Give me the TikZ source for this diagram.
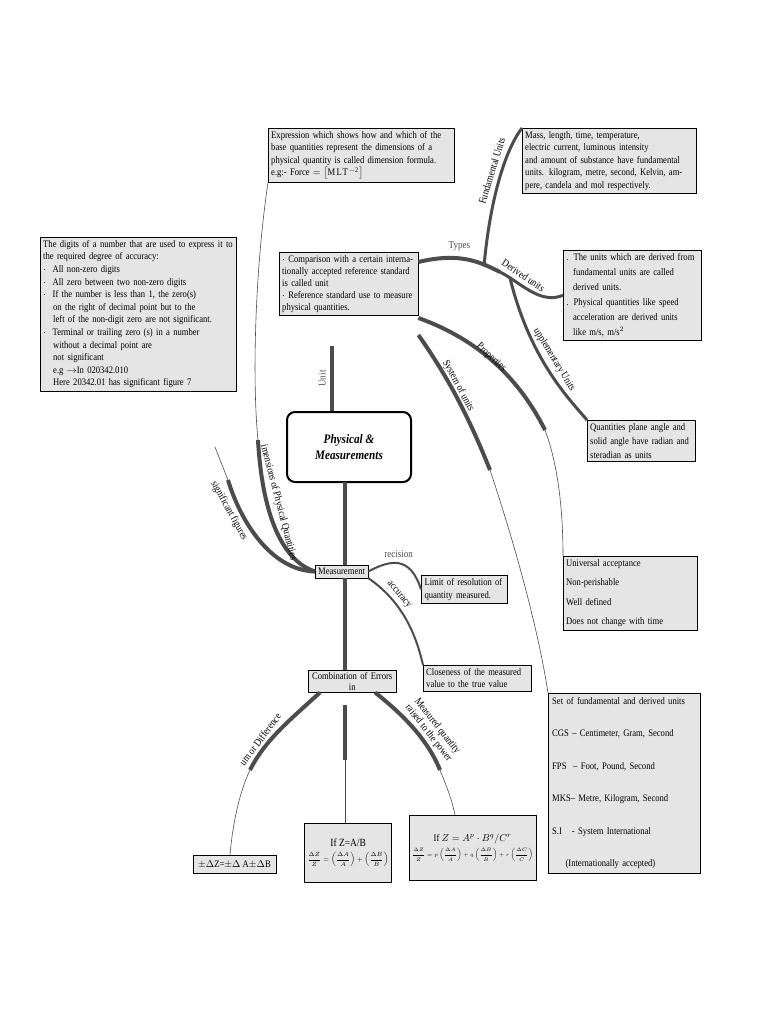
\documentclass[tikz,border=0pt]{standalone}
\usepackage{fontspec}
\usepackage{amsmath}
\setmainfont{Liberation Serif}[FakeStretch=0.86]
\usetikzlibrary{positioning}
\begin{document}
\begin{tikzpicture}[x=1pt,y=-1pt,
  box/.style={draw,fill=gray!20,inner sep=3pt,align=left,font=\fontsize{10}{12.5}\selectfont},
  branch/.style={line width=4pt,gray!60!black},
  thin branch/.style={line width=0.6pt,gray!60!black},
  blabel/.style={font=\fontsize{10.5}{11}\selectfont,sloped,text=black}]
  \useasboundingbox (0,0) rectangle (768,1024);

  % boxes
  \node[box,text width=180pt,anchor=north west] (dimf) at (268,128)
    {Expression which shows how and which of the base quantities represent the dimensions of a physical quantity is called dimension formula.\\ e.g:- Force $=\left[\mathrm{MLT^{-2}}\right]$};
  \node[box,text width=168pt,anchor=north west] (fund) at (522,128)
    {Mass, length, time, temperature,\\ electric current, luminous intensity\\ and amount of substance have fundamental units. kilogram, metre, second, Kelvin, ampere, candela and mol respectively.};
  \node[box,line width=1pt,text width=132pt,anchor=north west,font=\fontsize{10}{15}\selectfont] (der) at (563,250)
    {. The units which are derived from\\ \ \ fundamental units are called\\ \ \ derived units.\\ . Physical quantities like speed\\ \ \ acceleration are derived units\\ \ \ like m/s, m/s$^2$};
  \node[box,text width=133pt,anchor=north west,font=\fontsize{10}{12}\selectfont\raggedright] (unit) at (279,252)
    {$\cdot$ Comparison with a certain internationally accepted reference standard is called unit\\ $\cdot$ Reference standard use to measure physical quantities.};
  \node[box,text width=190pt,anchor=north west,font=\fontsize{10}{12.6}\selectfont] (digits) at (40,237)
    {The digits of a number that are used to express it to the required degree of accuracy:\\
     $\cdot$\ \ All non-zero digits\\
     $\cdot$\ \ All zero between two non-zero digits\\
     $\cdot$\ \ If the number is less than 1, the zero(s)\\ \ \ \ on the right of decimal point but to the\\ \ \ \ left of the non-digit zero are not significant.\\
     $\cdot$\ \ Terminal or trailing zero (s) in a number\\ \ \ \ without a decimal point are\\ \ \ \ not significant\\ \ \ \ e.g $\rightarrow$In 020342.010\\ \ \ \ Here 20342.01 has significant figure 7};
  \node[draw,line width=2pt,rounded corners=8pt,minimum width=124pt,minimum height=70pt,align=center,
    font=\fontsize{13}{16}\selectfont\itshape\bfseries] (title) at (349,447) {Physical \&\\ Measurements};
  \node[box,anchor=north west,text width=102pt,font=\fontsize{10}{14}\selectfont\raggedright] (angle) at (587,420)
    {Quantities plane angle and solid angle have radian and steradian as units};
  \node[box,anchor=north west,text width=128pt,font=\fontsize{10}{19.5}\selectfont] (prop) at (563,556)
    {Universal acceptance\\ Non-perishable\\ Well defined\\ Does not change with time};
  \node[box,anchor=north west] (meas) at (315,565) {Measurement};
  \node[box,anchor=north west,line width=1pt,text width=80pt] (limit) at (421,575)
    {Limit of resolution of quantity measured.};
  \node[box,anchor=north west,text width=102pt] (close) at (423,665)
    {Closeness of the measured value to the true value};
  \node[box,anchor=north west,text width=144pt,font=\fontsize{10}{32.5}\selectfont,inner sep=4pt] (sys) at (548,693)
    {Set of fundamental and derived units\\ CGS -- Centimeter, Gram, Second\\ FPS\ \ -- Foot, Pound, Second\\ MKS-- Metre, Kilogram, Second\\ S.I\ \ \ - System International\\ \ \ \ \ (Internationally accepted)};
  \node[box,align=center,anchor=north west,text width=84pt,inner sep=2pt,font=\fontsize{10}{11}\selectfont] (comb) at (308,670)
    {Combination of Errors\\ in};
  \node[box,anchor=north west,inner sep=5pt] (sum) at (193,855) {$\pm\Delta$Z=$\pm\Delta$ A$\pm\Delta$B};
  \node[box,line width=1pt,align=center,anchor=north west,minimum width=78pt,minimum height=59pt] (quot) at (304,823)
    {\fontsize{11}{12}\selectfont If Z=A/B\\[2pt] {\fontsize{6}{7}\selectfont$\dfrac{\Delta Z}{Z}=\left(\dfrac{\Delta A}{A}\right)+\left(\dfrac{\Delta B}{B}\right)$}};
  \node[box,align=center,anchor=north west,minimum width=115pt,minimum height=65pt] (pow) at (409,815)
    {If $Z=A^p\cdot B^q/C^r$\\[2pt] {\fontsize{5.5}{7}\selectfont$\dfrac{\Delta Z}{Z}=p\left(\dfrac{\Delta A}{A}\right)+q\left(\dfrac{\Delta B}{B}\right)+r\left(\dfrac{\Delta C}{C}\right)$}};

  % branches
  \coordinate (tj) at (500,272);
  \draw[branch] (unit.east|-0,262) .. controls (460,252) and (480,262) .. (tj)
    node[pos=0.4,above=2pt,font=\fontsize{10.5}{11}\selectfont] {Types};
  \draw[branch,line width=3pt] (tj) .. controls (520,282) and (540,305) .. (der.west)
    node[blabel,pos=0.3,above=1pt] {Derived units};
  \draw[branch,line width=3pt] (484,266) .. controls (490,200) and (505,150) .. (fund.north west)
    node[blabel,pos=0.55,above=1pt] {Fundamental Units};
  \draw[branch,line width=3pt] (510,278) .. controls (530,360) and (570,400) .. (angle.north west)
    node[blabel,pos=0.45,above=1pt] {upplementary Units};
  \draw[branch] (unit.east|-0,318) .. controls (480,340) and (520,380) .. (545,430);
  \draw[thin branch] (545,430) .. controls (560,470) and (563,520) .. (prop.north west);
  \path (unit.east|-0,318) .. controls (500,360) and (560,430) .. (prop.north west)
    node[blabel,pos=0.3,above=1pt] {Properties};
  \draw[branch] (unit.east|-0,335) .. controls (450,380) and (470,420) .. (490,470);
  \draw[thin branch] (490,470) .. controls (520,560) and (540,640) .. (sys.north west);
  \path (unit.east|-0,335) .. controls (470,420) and (530,540) .. (sys.north west)
    node[blabel,pos=0.2,above=1pt] {System of units};
  \draw[branch] (332,346) -- (title.north-|332,0)
    node[midway,left=1pt,rotate=90,anchor=south,font=\fontsize{10.5}{11}\selectfont] {Unit};
  \draw[branch] (345,482) -- (meas.north-|345,0);
  % dimensions and significant figures
  \coordinate (dm) at (258,440);
  \draw[branch] (meas.west) .. controls (280,560) and (262,510) .. (dm);
  \draw[thin branch] (dm) .. controls (252,380) and (255,270) .. (dimf.south west);
  \path (dm) .. controls (262,510) and (280,560) .. (meas.west)
    node[blabel,pos=0.35,above=3pt] {imensions of Physical Quantities};
  \draw[branch] (meas.west) .. controls (270,570) and (240,520) .. (228,480);
  \draw[thin branch] (228,480) -- (215,447);
  \path (215,447) .. controls (230,500) and (270,570) .. (meas.west)
    node[blabel,pos=0.35,below=3pt] {significant figures};
  \draw[branch,line width=2pt] (meas.east) .. controls (390,560) and (410,555) .. (limit.west)
    node[pos=0.5,above=1pt,font=\fontsize{10.5}{11}\selectfont] {recision};
  \draw[branch,line width=2pt] (meas.south east) .. controls (400,600) and (415,630) .. (close.north west)
    node[blabel,pos=0.3,above=0pt] {accuracy};
  \draw[branch] (meas.south-|345,0) -- (comb.north-|345,0);
  \draw[branch] (comb.south-|320,0) .. controls (290,720) and (265,740) .. (250,770);
  \draw[thin branch] (250,770) .. controls (238,795) and (232,830) .. (sum.north-|230,0);
  \path (comb.south-|320,0) .. controls (270,730) and (230,780) .. (sum.north-|230,0)
    node[blabel,pos=0.4,above=1pt] {um or Difference};
  \draw[branch] (345,705) -- (345,760);
  \draw[thin branch] (345,760) -- (quot.north-|345,0);
  \draw[branch] (comb.south-|375,0) .. controls (410,720) and (430,745) .. (440,770);
  \draw[thin branch] (440,770) .. controls (448,790) and (452,800) .. (pow.north-|455,0);
  \path (comb.south-|375,0) .. controls (420,730) and (450,770) .. (pow.north-|455,0)
    node[blabel,pos=0.4,above=1pt,align=center] {Measured quantity\\ raised to the power};
\end{tikzpicture}
\end{document}
